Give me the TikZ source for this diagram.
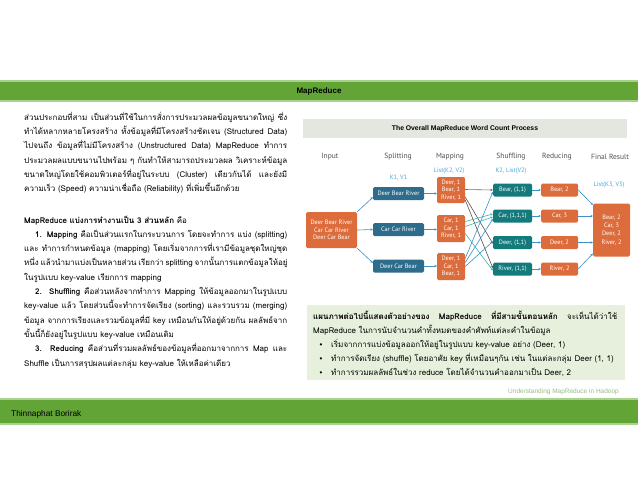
\documentclass[tikz,border=0pt]{standalone}
\usepackage{fontspec}
\setmainfont{Liberation Sans}
\newfontfamily\thai[Script=Thai]{Loma}
\newfontfamily\dgf{PT Sans}
\usetikzlibrary{arrows.meta}
\definecolor{bandgreen}{HTML}{62A436}
\definecolor{bandlight}{HTML}{A9D18E}
\definecolor{hdrgray}{HTML}{E3E7E0}
\definecolor{boxgreen}{HTML}{E7F0DC}
\definecolor{orng}{HTML}{DC6C3B}
\definecolor{splitb}{HTML}{2E6C8B}
\definecolor{shuft}{HTML}{157A7B}
\definecolor{arrb}{HTML}{3E90C5}
\definecolor{lblb}{HTML}{45A8DC}
\definecolor{lgray}{HTML}{6E6E6E}
\definecolor{dgray}{HTML}{5A5050}
\definecolor{lteal}{HTML}{3DB3B3}
\definecolor{capg}{HTML}{98BC84}
\definecolor{colg}{HTML}{505050}
\newcommand{\jline}[2]{\makebox[#1pt][s]{#2}}
\begin{document}
\begin{tikzpicture}[x=1pt,y=-1pt,
  tl/.style={anchor=base west,inner sep=0pt,font=\thai\fontsize{8}{10}\selectfont},
  obox/.style={fill=orng,rounded corners=1.5pt,text=white,inner sep=0pt,align=center,font=\dgf\fontsize{6.3}{7.6}\selectfont},
  sbox/.style={obox,fill=splitb},
  tbox/.style={obox,fill=shuft},
  ar/.style={draw=arrb,line width=0.6pt,-{Stealth[length=2.4pt,width=2.4pt]}},
  colhd/.style={text=colg,inner sep=0pt,font=\dgf\fontsize{7.5}{9}\selectfont},
  lbl/.style={text=lblb,inner sep=0pt,font=\dgf\fontsize{6.3}{8}\selectfont},
  bul/.style={inner sep=0pt,font=\fontsize{8}{10}\selectfont}
  ]
\useasboundingbox (0,0) rectangle (638,493);
\fill[white] (0,0) rectangle (638,493);
% top band
\fill[bandlight] (0,80) rectangle (638,102);
\fill[bandgreen] (0,82) rectangle (638,100);
\node[inner sep=0pt,font=\bfseries\fontsize{8}{9}\selectfont] (title) at (319,91) {MapReduce};
% bottom band
\fill[bandlight] (0,398) rectangle (638,425);
\fill[bandgreen] (0,400) rectangle (638,423);
\node[anchor=west,inner sep=0pt,font=\fontsize{8.3}{10}\selectfont] (author) at (11,414.5) {Thinnaphat Borirak};

% left text
\node[tl] (p1) at (24,120) {\jline{263}{ส่วนประกอบที่สาม เป็นส่วนที่ใช้ในการสั่งการประมวลผลข้อมูลขนาดใหญ่ ซึ่ง}};
\node[tl] (p2) at (24,134.3) {\jline{263}{ทำได้หลากหลายโครงสร้าง ทั้งข้อมูลที่มีโครงสร้างชัดเจน (Structured Data)}};
\node[tl] (p3) at (24,148.6) {\jline{263}{ไปจนถึง ข้อมูลที่ไม่มีโครงสร้าง (Unstructured Data) MapReduce ทำการ}};
\node[tl] (p4) at (24,163) {\jline{263}{ประมวลผลแบบขนานไปพร้อม ๆ กันทำให้สามารถประมวลผล วิเคราะห์ข้อมูล}};
\node[tl] (p5) at (24,177.3) {\jline{263}{ขนาดใหญ่โดยใช้คอมพิวเตอร์ที่อยู่ในระบบ (Cluster) เดียวกันได้ และยังมี}};
\node[tl] (p6) at (24,191.6) {ความเร็ว (Speed) ความน่าเชื่อถือ (Reliability) ที่เพิ่มขึ้นอีกด้วย};
\node[tl] (hd) at (24,223) {\textbf{MapReduce แบ่งการทำงานเป็น 3 ส่วนหลัก} คือ};
\node[tl] (a1) at (35,237) {\jline{252}{\textbf{1. Mapping} คือเป็นส่วนแรกในกระบวนการ โดยจะทำการ แบ่ง (splitting)}};
\node[tl] (a2) at (24,251.3) {\jline{263}{และ ทำการกำหนดข้อมูล (mapping) โดยเริ่มจากการที่เรามีข้อมูลชุดใหญ่ชุด}};
\node[tl] (a3) at (24,265.6) {\jline{263}{หนึ่ง แล้วนำมาแบ่งเป็นหลายส่วน เรียกว่า splitting จากนั้นการแตกข้อมูลให้อยู่}};
\node[tl] (a4) at (24,280) {ในรูปแบบ key-value เรียกการ mapping};
\node[tl] (b1) at (35,294.3) {\jline{252}{\textbf{2. Shuffling} คือส่วนหลังจากทำการ Mapping ให้ข้อมูลออกมาในรูปแบบ}};
\node[tl] (b2) at (24,308.6) {\jline{263}{key-value แล้ว โดยส่วนนี้จะทำการจัดเรียง (sorting) และรวบรวม (merging)}};
\node[tl] (b3) at (24,323) {\jline{263}{ข้อมูล จากการเรียงและรวมข้อมูลที่มี key เหมือนกันให้อยู่ด้วยกัน ผลลัพธ์จาก}};
\node[tl] (b4) at (24,337.3) {ขั้นนี้ก็ยังอยู่ในรูปแบบ key-value เหมือนเดิม};
\node[tl] (c1) at (35,351.6) {\jline{252}{\textbf{3. Reducing} คือส่วนที่รวมผลลัพธ์ของข้อมูลที่ออกมาจากการ Map และ}};
\node[tl] (c2) at (24,366) {Shuffle เป็นการสรุปผลแต่ละกลุ่ม key-value ให้เหลือค่าเดียว};

% diagram header
\node[fill=hdrgray,minimum width=324pt,minimum height=19pt,inner sep=0pt,font=\bfseries\fontsize{6.8}{8}\selectfont] (hdr) at (465,128.5) {The Overall MapReduce Word Count Process};
\node[colhd] (ch1) at (330,157) {Input};
\node[colhd] (ch2) at (398,157) {Splitting};
\node[colhd] (ch3) at (450,157) {Mapping};
\node[colhd] (ch4) at (511,157) {Shuffling};
\node[colhd] (ch5) at (557,157) {Reducing};
\node[colhd] (ch6) at (610,157) {Final Result};
\node[lbl] (lk1) at (398.5,178) {K1, V1};
\node[lbl] (lk2) at (449,171) {List(K2, V2)};
\node[lbl] (lk3) at (511,171) {K2, List(V2)};
\node[lbl] (lk4) at (609,185) {List(K3, V3)};

% boxes
\node[obox,minimum width=51pt,minimum height=36pt,font=\dgf\fontsize{6.3}{7.5}\selectfont] (in) at (331.5,230) {Deer Bear River\\Car Car River\\Deer Car Bear};
\node[sbox,minimum width=51pt,minimum height=13pt] (s1) at (398.5,193.5) {Deer Bear River};
\node[sbox,minimum width=51pt,minimum height=13pt] (s2) at (398.5,229.5) {Car Car River};
\node[sbox,minimum width=51pt,minimum height=13pt] (s3) at (398.5,266) {Deer Car Bear};
\node[obox,minimum width=28pt,minimum height=26pt] (m1) at (451,190) {Deer, 1\\Bear, 1\\River, 1};
\node[obox,minimum width=28pt,minimum height=27pt] (m2) at (451,228.5) {Car, 1\\Car, 1\\River, 1};
\node[obox,minimum width=28pt,minimum height=27pt] (m3) at (451,266.5) {Deer, 1\\Car, 1\\Bear, 1};
\node[tbox,minimum width=39pt,minimum height=13pt] (h1) at (512.5,190) {Bear, (1,1)};
\node[tbox,minimum width=39pt,minimum height=13pt] (h2) at (512.5,216) {Car, (1,1,1)};
\node[tbox,minimum width=39pt,minimum height=13pt] (h3) at (512.5,242.5) {Deer, (1,1)};
\node[tbox,minimum width=39pt,minimum height=13pt] (h4) at (512.5,269) {River, (1,1)};
\node[obox,minimum width=37pt,minimum height=13pt] (rd1) at (559.5,190) {Bear, 2};
\node[obox,minimum width=37pt,minimum height=13pt] (rd2) at (559.5,216) {Car, 3};
\node[obox,minimum width=37pt,minimum height=13pt] (rd3) at (559.5,242.5) {Deer, 2};
\node[obox,minimum width=37pt,minimum height=13pt] (rd4) at (559.5,269) {River, 2};
\node[obox,minimum width=37pt,minimum height=53pt,font=\dgf\fontsize{6.3}{8.2}\selectfont] (fin) at (611.5,230) {Bear, 2\\Car, 3\\Deer, 2\\River, 2};

% connectors
\draw[ar] (in.north east) -- ([yshift=3pt]s1.south west);
\draw[ar] (in.east) -- (s2.west);
\draw[ar] (in.south east) -- ([yshift=-3.5pt]s3.north west);
\draw[ar] (s1.east) -- (s1.east -| m1.west);
\draw[ar] (s2.east) -- (s2.east -| m2.west);
\draw[ar] (s3.east) -- (s3.east -| m3.west);
\draw[ar,draw=lgray] ([yshift=0.5pt]m1.east) -- (h1.west);
\draw[ar,draw=dgray] ([yshift=-7pt]m1.east) -- ([yshift=-1pt]h3.west);
\draw[ar,draw=dgray] ([yshift=-10pt]m1.east) -- ([yshift=1pt]h4.west);
\draw[ar,draw=lteal] ([yshift=7pt]m2.east) -- ([yshift=2pt]h2.west);
\draw[ar,draw=lteal] ([yshift=2pt]m2.east) -- ([yshift=-1pt]h2.west);
\draw[ar,draw=lteal] ([yshift=-5pt]m2.east) -- ([yshift=-1.5pt]h4.west);
\draw[ar] ([yshift=8pt]m3.east) -- ([yshift=-2pt]h1.west);
\draw[ar] ([yshift=4pt]m3.east) -- ([yshift=-3pt]h2.west);
\draw[ar] (m3.east) -- ([yshift=1pt]h3.west);
\draw[ar] (h1.east) -- (rd1.west);
\draw[ar] (h2.east) -- (rd2.west);
\draw[ar] (h3.east) -- (rd3.west);
\draw[ar] (h4.east) -- (rd4.west);
\draw[ar] (rd1.east) -- ([yshift=-1.5pt]fin.north west);
\draw[ar] (rd2.east) -- (rd2.east -| fin.west);
\draw[ar] (rd3.east) -- (rd3.east -| fin.west);
\draw[ar] (rd4.east) -- ([yshift=3pt]fin.south west);

% note box
\fill[boxgreen] (307,305) rectangle (625,380);
\node[tl] (n1) at (313,319) {\jline{304}{\bfseries แผนภาพต่อไปนี้แสดงตัวอย่างของ MapReduce ที่มีสามขั้นตอนหลัก \mdseries จะเห็นได้ว่าใช้}};
\node[tl] (n2) at (313,333) {MapReduce ในการนับจำนวนคำทั้งหมดของคำศัพท์แต่ละคำในข้อมูล};
\node[bul] (u1) at (321,346) {\textbullet};
\node[tl] (n3) at (331,347) {เริ่มจากการแบ่งข้อมูลออกให้อยู่ในรูปแบบ key-value อย่าง (Deer, 1)};
\node[bul] (u2) at (321,360) {\textbullet};
\node[tl] (n4) at (331,361) {ทำการจัดเรียง (shuffle) โดยอาศัย key ที่เหมือนๆกัน เช่น ในแต่ละกลุ่ม Deer (1, 1)};
\node[bul] (u3) at (321,374) {\textbullet};
\node[tl] (n5) at (331,375) {ทำการรวมผลลัพธ์ในช่วง reduce โดยได้จำนวนคำออกมาเป็น Deer, 2};
\node[anchor=east,inner sep=0pt,text=capg,font=\fontsize{6.5}{8}\selectfont] (src) at (619,392) {Understanding MapReduce in Hadoop};
\end{tikzpicture}
\end{document}
